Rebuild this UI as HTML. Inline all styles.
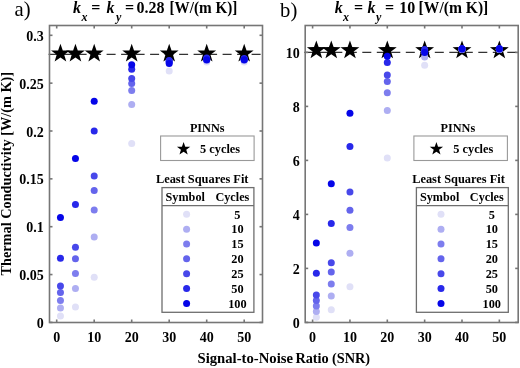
<!DOCTYPE html>
<html><head><meta charset="utf-8"><style>html,body{margin:0;padding:0;background:#fff;}svg{display:block;filter:blur(0.35px);}</style></head><body>
<svg width="520" height="368" viewBox="0 0 520 368">
<rect width="520" height="368" fill="#fff"/>
<line x1="48.6" y1="54.30" x2="262.5" y2="54.30" stroke="#333" stroke-width="1.3" stroke-dasharray="9 5.5"/>
<polygon points="60.45,43.70 62.78,50.40 69.87,50.54 64.22,54.82 66.27,61.61 60.45,57.56 54.63,61.61 56.68,54.82 51.03,50.54 58.12,50.40" fill="#000"/>
<polygon points="75.45,43.70 77.78,50.40 84.87,50.54 79.22,54.82 81.27,61.61 75.45,57.56 69.63,61.61 71.68,54.82 66.03,50.54 73.12,50.40" fill="#000"/>
<polygon points="94.20,43.70 96.53,50.40 103.62,50.54 97.97,54.82 100.02,61.61 94.20,57.56 88.38,61.61 90.43,54.82 84.78,50.54 91.87,50.40" fill="#000"/>
<polygon points="131.70,43.70 134.03,50.40 141.12,50.54 135.47,54.82 137.52,61.61 131.70,57.56 125.88,61.61 127.93,54.82 122.28,50.54 129.37,50.40" fill="#000"/>
<polygon points="169.20,43.70 171.53,50.40 178.62,50.54 172.97,54.82 175.02,61.61 169.20,57.56 163.38,61.61 165.43,54.82 159.78,50.54 166.87,50.40" fill="#000"/>
<polygon points="206.70,43.70 209.03,50.40 216.12,50.54 210.47,54.82 212.52,61.61 206.70,57.56 200.88,61.61 202.93,54.82 197.28,50.54 204.37,50.40" fill="#000"/>
<polygon points="244.20,43.70 246.53,50.40 253.62,50.54 247.97,54.82 250.02,61.61 244.20,57.56 238.38,61.61 240.43,54.82 234.78,50.54 241.87,50.40" fill="#000"/>
<circle cx="60.45" cy="315.90" r="3.50" fill="#e0e0f7"/>
<circle cx="75.45" cy="306.90" r="3.50" fill="#e0e0f7"/>
<circle cx="94.20" cy="277.20" r="3.50" fill="#e0e0f7"/>
<circle cx="131.70" cy="143.60" r="3.50" fill="#e0e0f7"/>
<circle cx="169.20" cy="71.00" r="3.50" fill="#e0e0f7"/>
<circle cx="206.70" cy="62.00" r="3.50" fill="#e0e0f7"/>
<circle cx="244.20" cy="62.00" r="3.50" fill="#e0e0f7"/>
<circle cx="60.45" cy="308.10" r="3.50" fill="#aeaef2"/>
<circle cx="75.45" cy="288.40" r="3.50" fill="#aeaef2"/>
<circle cx="94.20" cy="237.00" r="3.50" fill="#aeaef2"/>
<circle cx="131.70" cy="104.60" r="3.50" fill="#aeaef2"/>
<circle cx="169.20" cy="62.50" r="3.50" fill="#aeaef2"/>
<circle cx="206.70" cy="60.50" r="3.50" fill="#aeaef2"/>
<circle cx="244.20" cy="60.50" r="3.50" fill="#aeaef2"/>
<circle cx="60.45" cy="300.40" r="3.50" fill="#7d7dee"/>
<circle cx="75.45" cy="273.60" r="3.50" fill="#7d7dee"/>
<circle cx="94.20" cy="210.00" r="3.50" fill="#7d7dee"/>
<circle cx="131.70" cy="90.40" r="3.50" fill="#7d7dee"/>
<circle cx="169.20" cy="62.00" r="3.50" fill="#7d7dee"/>
<circle cx="206.70" cy="60.00" r="3.50" fill="#7d7dee"/>
<circle cx="244.20" cy="60.00" r="3.50" fill="#7d7dee"/>
<circle cx="60.45" cy="292.60" r="3.50" fill="#6464ec"/>
<circle cx="75.45" cy="258.70" r="3.50" fill="#6464ec"/>
<circle cx="94.20" cy="190.40" r="3.50" fill="#6464ec"/>
<circle cx="131.70" cy="83.40" r="3.50" fill="#6464ec"/>
<circle cx="169.20" cy="61.50" r="3.50" fill="#6464ec"/>
<circle cx="206.70" cy="59.60" r="3.50" fill="#6464ec"/>
<circle cx="244.20" cy="59.60" r="3.50" fill="#6464ec"/>
<circle cx="60.45" cy="286.00" r="3.50" fill="#4848ea"/>
<circle cx="75.45" cy="247.30" r="3.50" fill="#4848ea"/>
<circle cx="94.20" cy="175.90" r="3.50" fill="#4848ea"/>
<circle cx="131.70" cy="78.50" r="3.50" fill="#4848ea"/>
<circle cx="169.20" cy="61.00" r="3.50" fill="#4848ea"/>
<circle cx="206.70" cy="59.20" r="3.50" fill="#4848ea"/>
<circle cx="244.20" cy="59.20" r="3.50" fill="#4848ea"/>
<circle cx="60.45" cy="258.30" r="3.50" fill="#2828ea"/>
<circle cx="75.45" cy="204.60" r="3.50" fill="#2828ea"/>
<circle cx="94.20" cy="131.10" r="3.50" fill="#2828ea"/>
<circle cx="131.70" cy="69.20" r="3.50" fill="#2828ea"/>
<circle cx="169.20" cy="60.40" r="3.50" fill="#2828ea"/>
<circle cx="206.70" cy="58.00" r="3.50" fill="#2828ea"/>
<circle cx="244.20" cy="58.60" r="3.50" fill="#2828ea"/>
<circle cx="60.45" cy="217.40" r="3.50" fill="#0505e8"/>
<circle cx="75.45" cy="158.50" r="3.50" fill="#0505e8"/>
<circle cx="94.20" cy="101.30" r="3.50" fill="#0505e8"/>
<circle cx="131.70" cy="64.70" r="3.50" fill="#0505e8"/>
<circle cx="169.20" cy="63.60" r="3.50" fill="#0505e8"/>
<circle cx="206.70" cy="59.80" r="3.50" fill="#0505e8"/>
<circle cx="244.20" cy="59.70" r="3.50" fill="#0505e8"/>
<g stroke="#767676" stroke-width="1.6" fill="none">
<rect x="49.5" y="25.5" width="213.0" height="297.0"/>
<line x1="56.70" y1="322.50" x2="56.70" y2="319.50"/>
<line x1="56.70" y1="25.50" x2="56.70" y2="28.50"/>
<line x1="94.20" y1="322.50" x2="94.20" y2="319.50"/>
<line x1="94.20" y1="25.50" x2="94.20" y2="28.50"/>
<line x1="131.70" y1="322.50" x2="131.70" y2="319.50"/>
<line x1="131.70" y1="25.50" x2="131.70" y2="28.50"/>
<line x1="169.20" y1="322.50" x2="169.20" y2="319.50"/>
<line x1="169.20" y1="25.50" x2="169.20" y2="28.50"/>
<line x1="206.70" y1="322.50" x2="206.70" y2="319.50"/>
<line x1="206.70" y1="25.50" x2="206.70" y2="28.50"/>
<line x1="244.20" y1="322.50" x2="244.20" y2="319.50"/>
<line x1="244.20" y1="25.50" x2="244.20" y2="28.50"/>
<line x1="49.50" y1="322.40" x2="52.50" y2="322.40"/>
<line x1="262.50" y1="322.40" x2="259.50" y2="322.40"/>
<line x1="49.50" y1="274.55" x2="52.50" y2="274.55"/>
<line x1="262.50" y1="274.55" x2="259.50" y2="274.55"/>
<line x1="49.50" y1="226.70" x2="52.50" y2="226.70"/>
<line x1="262.50" y1="226.70" x2="259.50" y2="226.70"/>
<line x1="49.50" y1="178.85" x2="52.50" y2="178.85"/>
<line x1="262.50" y1="178.85" x2="259.50" y2="178.85"/>
<line x1="49.50" y1="131.00" x2="52.50" y2="131.00"/>
<line x1="262.50" y1="131.00" x2="259.50" y2="131.00"/>
<line x1="49.50" y1="83.15" x2="52.50" y2="83.15"/>
<line x1="262.50" y1="83.15" x2="259.50" y2="83.15"/>
<line x1="49.50" y1="35.30" x2="52.50" y2="35.30"/>
<line x1="262.50" y1="35.30" x2="259.50" y2="35.30"/>
</g>
<line x1="304.3" y1="52.30" x2="518.2" y2="52.30" stroke="#333" stroke-width="1.3" stroke-dasharray="9 5.5"/>
<polygon points="316.34,40.40 318.66,47.10 325.75,47.24 320.10,51.52 322.15,58.31 316.34,54.26 310.52,58.31 312.57,51.52 306.92,47.24 314.01,47.10" fill="#000"/>
<polygon points="331.28,40.40 333.60,47.10 340.69,47.24 335.04,51.52 337.09,58.31 331.28,54.26 325.46,58.31 327.51,51.52 321.86,47.24 328.95,47.10" fill="#000"/>
<polygon points="349.95,40.40 352.28,47.10 359.37,47.24 353.72,51.52 355.77,58.31 349.95,54.26 344.13,58.31 346.18,51.52 340.53,47.24 347.62,47.10" fill="#000"/>
<polygon points="387.30,40.40 389.63,47.10 396.72,47.24 391.07,51.52 393.12,58.31 387.30,54.26 381.48,58.31 383.53,51.52 377.88,47.24 384.97,47.10" fill="#000"/>
<polygon points="424.65,40.40 426.98,47.10 434.07,47.24 428.42,51.52 430.47,58.31 424.65,54.26 418.83,58.31 420.88,51.52 415.23,47.24 422.32,47.10" fill="#000"/>
<polygon points="462.00,40.40 464.33,47.10 471.42,47.24 465.77,51.52 467.82,58.31 462.00,54.26 456.18,58.31 458.23,51.52 452.58,47.24 459.67,47.10" fill="#000"/>
<polygon points="499.35,40.40 501.68,47.10 508.77,47.24 503.12,51.52 505.17,58.31 499.35,54.26 493.53,58.31 495.58,51.52 489.93,47.24 497.02,47.10" fill="#000"/>
<circle cx="316.34" cy="317.30" r="3.50" fill="#e0e0f7"/>
<circle cx="331.28" cy="309.80" r="3.50" fill="#e0e0f7"/>
<circle cx="349.95" cy="286.80" r="3.50" fill="#e0e0f7"/>
<circle cx="387.30" cy="158.00" r="3.50" fill="#e0e0f7"/>
<circle cx="424.65" cy="65.30" r="3.50" fill="#e0e0f7"/>
<circle cx="462.00" cy="49.60" r="3.50" fill="#e0e0f7"/>
<circle cx="499.35" cy="49.60" r="3.50" fill="#e0e0f7"/>
<circle cx="316.34" cy="311.40" r="3.50" fill="#aeaef2"/>
<circle cx="331.28" cy="296.10" r="3.50" fill="#aeaef2"/>
<circle cx="349.95" cy="253.30" r="3.50" fill="#aeaef2"/>
<circle cx="387.30" cy="110.50" r="3.50" fill="#aeaef2"/>
<circle cx="424.65" cy="57.00" r="3.50" fill="#aeaef2"/>
<circle cx="462.00" cy="49.40" r="3.50" fill="#aeaef2"/>
<circle cx="499.35" cy="49.40" r="3.50" fill="#aeaef2"/>
<circle cx="316.34" cy="306.00" r="3.50" fill="#7d7dee"/>
<circle cx="331.28" cy="284.00" r="3.50" fill="#7d7dee"/>
<circle cx="349.95" cy="227.40" r="3.50" fill="#7d7dee"/>
<circle cx="387.30" cy="92.80" r="3.50" fill="#7d7dee"/>
<circle cx="424.65" cy="52.00" r="3.50" fill="#7d7dee"/>
<circle cx="462.00" cy="49.20" r="3.50" fill="#7d7dee"/>
<circle cx="499.35" cy="49.20" r="3.50" fill="#7d7dee"/>
<circle cx="316.34" cy="300.50" r="3.50" fill="#6464ec"/>
<circle cx="331.28" cy="272.10" r="3.50" fill="#6464ec"/>
<circle cx="349.95" cy="210.30" r="3.50" fill="#6464ec"/>
<circle cx="387.30" cy="81.60" r="3.50" fill="#6464ec"/>
<circle cx="424.65" cy="51.50" r="3.50" fill="#6464ec"/>
<circle cx="462.00" cy="49.00" r="3.50" fill="#6464ec"/>
<circle cx="499.35" cy="49.00" r="3.50" fill="#6464ec"/>
<circle cx="316.34" cy="295.10" r="3.50" fill="#4848ea"/>
<circle cx="331.28" cy="262.80" r="3.50" fill="#4848ea"/>
<circle cx="349.95" cy="192.00" r="3.50" fill="#4848ea"/>
<circle cx="387.30" cy="74.90" r="3.50" fill="#4848ea"/>
<circle cx="424.65" cy="51.00" r="3.50" fill="#4848ea"/>
<circle cx="462.00" cy="48.90" r="3.50" fill="#4848ea"/>
<circle cx="499.35" cy="48.90" r="3.50" fill="#4848ea"/>
<circle cx="316.34" cy="273.20" r="3.50" fill="#2828ea"/>
<circle cx="331.28" cy="223.60" r="3.50" fill="#2828ea"/>
<circle cx="349.95" cy="146.40" r="3.50" fill="#2828ea"/>
<circle cx="387.30" cy="62.40" r="3.50" fill="#2828ea"/>
<circle cx="424.65" cy="49.40" r="3.50" fill="#2828ea"/>
<circle cx="462.00" cy="48.80" r="3.50" fill="#2828ea"/>
<circle cx="499.35" cy="48.80" r="3.50" fill="#2828ea"/>
<circle cx="316.34" cy="242.90" r="3.50" fill="#0505e8"/>
<circle cx="331.28" cy="183.70" r="3.50" fill="#0505e8"/>
<circle cx="349.95" cy="113.30" r="3.50" fill="#0505e8"/>
<circle cx="387.30" cy="56.20" r="3.50" fill="#0505e8"/>
<circle cx="424.65" cy="52.50" r="3.50" fill="#0505e8"/>
<circle cx="462.00" cy="48.70" r="3.50" fill="#0505e8"/>
<circle cx="499.35" cy="48.70" r="3.50" fill="#0505e8"/>
<g stroke="#767676" stroke-width="1.6" fill="none">
<rect x="305.2" y="25.5" width="213.0" height="297.0"/>
<line x1="312.60" y1="322.50" x2="312.60" y2="319.50"/>
<line x1="312.60" y1="25.50" x2="312.60" y2="28.50"/>
<line x1="349.95" y1="322.50" x2="349.95" y2="319.50"/>
<line x1="349.95" y1="25.50" x2="349.95" y2="28.50"/>
<line x1="387.30" y1="322.50" x2="387.30" y2="319.50"/>
<line x1="387.30" y1="25.50" x2="387.30" y2="28.50"/>
<line x1="424.65" y1="322.50" x2="424.65" y2="319.50"/>
<line x1="424.65" y1="25.50" x2="424.65" y2="28.50"/>
<line x1="462.00" y1="322.50" x2="462.00" y2="319.50"/>
<line x1="462.00" y1="25.50" x2="462.00" y2="28.50"/>
<line x1="499.35" y1="322.50" x2="499.35" y2="319.50"/>
<line x1="499.35" y1="25.50" x2="499.35" y2="28.50"/>
<line x1="305.20" y1="322.40" x2="308.20" y2="322.40"/>
<line x1="518.20" y1="322.40" x2="515.20" y2="322.40"/>
<line x1="305.20" y1="268.40" x2="308.20" y2="268.40"/>
<line x1="518.20" y1="268.40" x2="515.20" y2="268.40"/>
<line x1="305.20" y1="214.40" x2="308.20" y2="214.40"/>
<line x1="518.20" y1="214.40" x2="515.20" y2="214.40"/>
<line x1="305.20" y1="160.40" x2="308.20" y2="160.40"/>
<line x1="518.20" y1="160.40" x2="515.20" y2="160.40"/>
<line x1="305.20" y1="106.40" x2="308.20" y2="106.40"/>
<line x1="518.20" y1="106.40" x2="515.20" y2="106.40"/>
<line x1="305.20" y1="52.40" x2="308.20" y2="52.40"/>
<line x1="518.20" y1="52.40" x2="515.20" y2="52.40"/>
</g>
<g font-family="Liberation Serif, Times New Roman, serif" font-weight="bold" fill="#000">
<text x="43.80" y="327.90" font-size="14.00" text-anchor="end" >0</text>
<text x="43.80" y="280.05" font-size="14.00" text-anchor="end" >0.05</text>
<text x="43.80" y="232.20" font-size="14.00" text-anchor="end" >0.1</text>
<text x="43.80" y="184.35" font-size="14.00" text-anchor="end" >0.15</text>
<text x="43.80" y="136.50" font-size="14.00" text-anchor="end" >0.2</text>
<text x="43.80" y="88.65" font-size="14.00" text-anchor="end" >0.25</text>
<text x="43.80" y="40.80" font-size="14.00" text-anchor="end" >0.3</text>
<text x="299.80" y="327.60" font-size="14.00" text-anchor="end" >0</text>
<text x="299.80" y="273.60" font-size="14.00" text-anchor="end" >2</text>
<text x="299.80" y="219.60" font-size="14.00" text-anchor="end" >4</text>
<text x="299.80" y="165.60" font-size="14.00" text-anchor="end" >6</text>
<text x="299.80" y="111.60" font-size="14.00" text-anchor="end" >8</text>
<text x="299.80" y="57.60" font-size="14.00" text-anchor="end" >10</text>
<text x="56.70" y="341.60" font-size="14.00" text-anchor="middle" >0</text>
<text x="312.60" y="341.60" font-size="14.00" text-anchor="middle" >0</text>
<text x="94.20" y="341.60" font-size="14.00" text-anchor="middle" >10</text>
<text x="349.95" y="341.60" font-size="14.00" text-anchor="middle" >10</text>
<text x="131.70" y="341.60" font-size="14.00" text-anchor="middle" >20</text>
<text x="387.30" y="341.60" font-size="14.00" text-anchor="middle" >20</text>
<text x="169.20" y="341.60" font-size="14.00" text-anchor="middle" >30</text>
<text x="424.65" y="341.60" font-size="14.00" text-anchor="middle" >30</text>
<text x="206.70" y="341.60" font-size="14.00" text-anchor="middle" >40</text>
<text x="462.00" y="341.60" font-size="14.00" text-anchor="middle" >40</text>
<text x="244.20" y="341.60" font-size="14.00" text-anchor="middle" >50</text>
<text x="499.35" y="341.60" font-size="14.00" text-anchor="middle" >50</text>
<text x="197.5" y="362.8" font-size="14.3" textLength="95.5" lengthAdjust="spacingAndGlyphs">Signal-to-Noise</text>
<text x="295.4" y="362.8" font-size="14.3">Ratio</text>
<text x="332.0" y="362.8" font-size="14.3">(SNR)</text>
<text transform="translate(10.7,173.75) rotate(-90)" x="-101.8" y="0" font-size="13.6" textLength="203.6" lengthAdjust="spacingAndGlyphs">Thermal Conductivity [W/(m K)]</text>
<text y="12.5" font-size="16"><tspan x="72.90" font-style="italic">k</tspan><tspan x="81.60" y="20.8" font-size="12" font-style="italic">x</tspan><tspan x="91.20" y="12.5">=</tspan><tspan x="106.60" font-style="italic">k</tspan><tspan x="116.00" y="20.8" font-size="12" font-style="italic">y</tspan><tspan x="125.10" y="12.5">=</tspan><tspan x="136.50">0.28</tspan></text><text x="169.40" y="12.5" font-size="16" textLength="68.00" lengthAdjust="spacingAndGlyphs">[W/(m K)]</text>
<text y="12.5" font-size="16"><tspan x="334.80" font-style="italic">k</tspan><tspan x="342.90" y="20.8" font-size="12" font-style="italic">x</tspan><tspan x="354.00" y="12.5">=</tspan><tspan x="367.50" font-style="italic">k</tspan><tspan x="376.00" y="20.8" font-size="12" font-style="italic">y</tspan><tspan x="385.10" y="12.5">=</tspan><tspan x="399.20">10</tspan></text><text x="418.60" y="12.5" font-size="16" textLength="69.70" lengthAdjust="spacingAndGlyphs">[W/(m K)]</text>
</g>
<text transform="translate(14.6,15.6) scale(0.94,1)" font-family="Liberation Serif, serif" font-size="22">a)</text>
<text transform="translate(280.1,16.9) scale(0.94,1)" font-family="Liberation Serif, serif" font-size="22">b)</text>
<g font-family="Liberation Serif, Times New Roman, serif" font-weight="bold" fill="#000">
<text x="207.20" y="131.9" font-size="13" text-anchor="middle" textLength="34.6" lengthAdjust="spacingAndGlyphs">PINNs</text>
<rect x="160.6" y="136.0" width="93.5" height="24.5" fill="none" stroke="#999" stroke-width="1.1"/>
<polygon points="183.60,141.90 185.25,146.63 190.26,146.74 186.26,149.77 187.71,154.56 183.60,151.70 179.49,154.56 180.94,149.77 176.94,146.74 181.95,146.63" fill="#000"/>
<text x="200.10" y="152.50" font-size="12.30" text-anchor="start" >5 cycles</text>
<text x="202.20" y="183.2" font-size="12.6" text-anchor="middle" textLength="92.6" lengthAdjust="spacingAndGlyphs">Least Squares Fit</text>
<rect x="162.0" y="187.6" width="91.9" height="124.7" fill="none" stroke="#6e6e6e" stroke-width="1.3"/>
<line x1="162.0" y1="205.7" x2="253.9" y2="205.7" stroke="#6e6e6e" stroke-width="1.3"/>
<text x="165.60" y="200.70" font-size="12.20" text-anchor="start" >Symbol</text>
<text x="249.30" y="200.70" font-size="12.20" text-anchor="end" >Cycles</text>
<circle cx="186.60" cy="214.30" r="3.50" fill="#e0e0f7"/>
<text x="237.40" y="218.60" font-size="12.30" text-anchor="middle" >5</text>
<circle cx="186.60" cy="229.15" r="3.50" fill="#aeaef2"/>
<text x="237.40" y="233.45" font-size="12.30" text-anchor="middle" >10</text>
<circle cx="186.60" cy="244.00" r="3.50" fill="#7d7dee"/>
<text x="237.40" y="248.30" font-size="12.30" text-anchor="middle" >15</text>
<circle cx="186.60" cy="258.85" r="3.50" fill="#6464ec"/>
<text x="237.40" y="263.15" font-size="12.30" text-anchor="middle" >20</text>
<circle cx="186.60" cy="273.70" r="3.50" fill="#4848ea"/>
<text x="237.40" y="278.00" font-size="12.30" text-anchor="middle" >25</text>
<circle cx="186.60" cy="288.55" r="3.50" fill="#2828ea"/>
<text x="237.40" y="292.85" font-size="12.30" text-anchor="middle" >50</text>
<circle cx="186.60" cy="303.40" r="3.50" fill="#0505e8"/>
<text x="237.40" y="307.70" font-size="12.30" text-anchor="middle" >100</text>
</g>
<g font-family="Liberation Serif, Times New Roman, serif" font-weight="bold" fill="#000">
<text x="457.85" y="131.9" font-size="13" text-anchor="middle" textLength="34.6" lengthAdjust="spacingAndGlyphs">PINNs</text>
<rect x="413.9" y="136.0" width="93.5" height="24.5" fill="none" stroke="#999" stroke-width="1.1"/>
<polygon points="436.40,141.90 438.05,146.63 443.06,146.74 439.06,149.77 440.51,154.56 436.40,151.70 432.29,154.56 433.74,149.77 429.74,146.74 434.75,146.63" fill="#000"/>
<text x="453.30" y="152.50" font-size="12.30" text-anchor="start" >5 cycles</text>
<text x="458.50" y="183.2" font-size="12.6" text-anchor="middle" textLength="92.6" lengthAdjust="spacingAndGlyphs">Least Squares Fit</text>
<rect x="416.4" y="187.6" width="91.9" height="124.7" fill="none" stroke="#6e6e6e" stroke-width="1.3"/>
<line x1="416.4" y1="205.7" x2="508.3" y2="205.7" stroke="#6e6e6e" stroke-width="1.3"/>
<text x="420.00" y="200.70" font-size="12.20" text-anchor="start" >Symbol</text>
<text x="503.70" y="200.70" font-size="12.20" text-anchor="end" >Cycles</text>
<circle cx="441.00" cy="214.30" r="3.50" fill="#e0e0f7"/>
<text x="491.80" y="218.60" font-size="12.30" text-anchor="middle" >5</text>
<circle cx="441.00" cy="229.15" r="3.50" fill="#aeaef2"/>
<text x="491.80" y="233.45" font-size="12.30" text-anchor="middle" >10</text>
<circle cx="441.00" cy="244.00" r="3.50" fill="#7d7dee"/>
<text x="491.80" y="248.30" font-size="12.30" text-anchor="middle" >15</text>
<circle cx="441.00" cy="258.85" r="3.50" fill="#6464ec"/>
<text x="491.80" y="263.15" font-size="12.30" text-anchor="middle" >20</text>
<circle cx="441.00" cy="273.70" r="3.50" fill="#4848ea"/>
<text x="491.80" y="278.00" font-size="12.30" text-anchor="middle" >25</text>
<circle cx="441.00" cy="288.55" r="3.50" fill="#2828ea"/>
<text x="491.80" y="292.85" font-size="12.30" text-anchor="middle" >50</text>
<circle cx="441.00" cy="303.40" r="3.50" fill="#0505e8"/>
<text x="491.80" y="307.70" font-size="12.30" text-anchor="middle" >100</text>
</g>
</svg>
</body></html>
